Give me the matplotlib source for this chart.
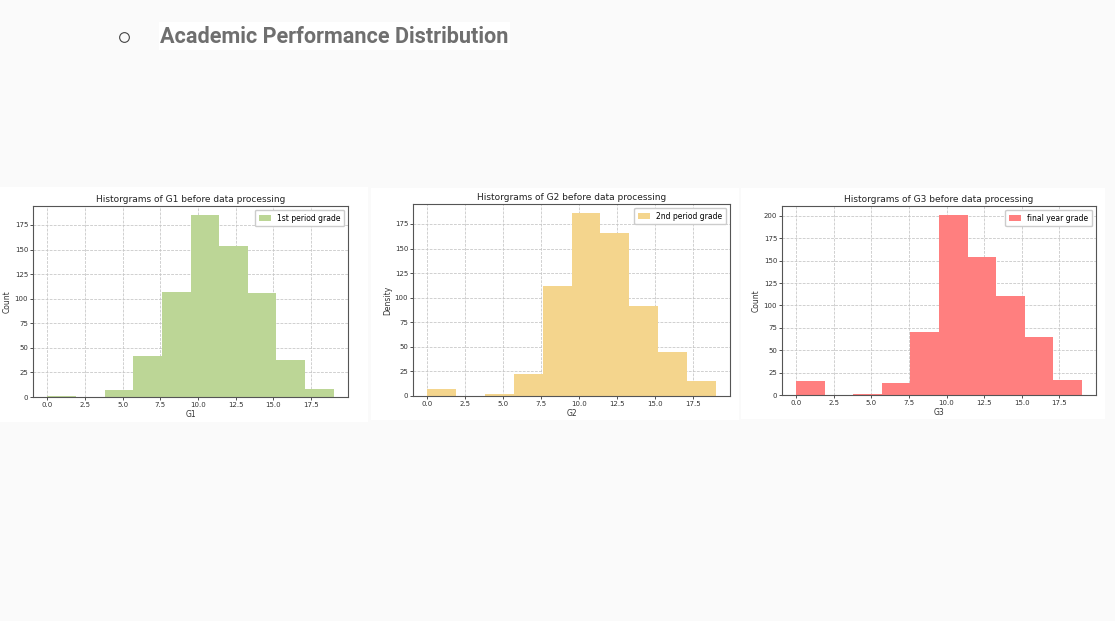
import numpy as np
import matplotlib.pyplot as plt
from matplotlib.patches import Rectangle
from matplotlib.lines import Line2D

# bin edges shared by all three histograms (10 bins over 0..19)
edges = np.linspace(0, 19, 11)

# counts
g1_counts = [1, 0, 7, 42, 107, 185, 154, 106, 38, 8]
g2_counts = [7, 0, 2, 22, 112, 186, 166, 92, 45, 15]
g3_counts = [16, 0, 1, 13, 70, 201, 154, 111, 65, 17]

titles = ["Historgrams of G1 before data processing",
          "Historgrams of G2 before data processing",
          "Historgrams of G3 before data processing"]
xlabels = ["G1", "G2", "G3"]
ylabels = ["Count", "Density", "Count"]
legends = ["1st period grade", "2nd period grade", "final year grade"]
colors = ["#bcd696", "#f4d58d", "#ff7f7f"]

W, H = 1115, 621
fig = plt.figure(figsize=(W / 100, H / 100), dpi=100)
fig.patch.set_facecolor("#fafafa")

def box(x0, y0, x1, y1):
    # pixel box (top-left origin) -> figure fraction rect
    return [x0 / W, 1 - y1 / H, (x1 - x0) / W, (y1 - y0) / H]

def white_rect(x0, y0, x1, y1):
    r = box(x0, y0, x1, y1)
    fig.patches.append(Rectangle((r[0], r[1]), r[2], r[3], transform=fig.transFigure,
                                 facecolor="white", edgecolor="none", zorder=-5))

# white panels behind each plot image
for p in [(0, 187, 368, 422), (371, 188, 739, 420), (741, 188, 1105, 419)]:
    white_rect(*p)

# slide heading
white_rect(159, 22, 510, 50)
fig.add_artist(Line2D([124 / W], [1 - 37 / H], transform=fig.transFigure, marker="o",
                      markersize=7, markerfacecolor="none", markeredgecolor="#444444",
                      markeredgewidth=0.8, linestyle="none"))
fig.text(160 / W, 1 - 37 / H, "Academic Performance Distribution", family="Roboto",
         weight="bold", fontsize=15.6, color="#6f6f6f", va="center", ha="left")

axes_boxes = [(33, 206, 348, 397), (413, 204, 730, 396), (782, 206, 1096, 395)]
all_counts = [g1_counts, g2_counts, g3_counts]

for i in range(3):
    ax = fig.add_axes(box(*axes_boxes[i]))
    ax.hist(edges[:-1], bins=edges, weights=all_counts[i], color=colors[i],
            label=legends[i])
    ax.set_title(titles[i], fontsize=6.5, color="#222222", pad=3)
    ax.set_xlabel(xlabels[i], fontsize=5.5, color="#333333", labelpad=1.5)
    ax.set_ylabel(ylabels[i], fontsize=5.5, color="#333333", labelpad=2)
    ax.set_xticks(np.arange(0, 19, 2.5))
    ax.tick_params(labelsize=5, colors="#333333", length=2, width=0.6, pad=1.5)
    ax.grid(True, linestyle="--", color="#c4c4c4", linewidth=0.55)
    ax.set_axisbelow(True)
    for s in ax.spines.values():
        s.set_color("#555555")
        s.set_linewidth(0.8)
    ax.legend(loc="upper right", fontsize=5.5, handlelength=1.6, borderpad=0.5,
              framealpha=1, fancybox=True)

fig.savefig("out.png", dpi=100, facecolor=fig.get_facecolor())
